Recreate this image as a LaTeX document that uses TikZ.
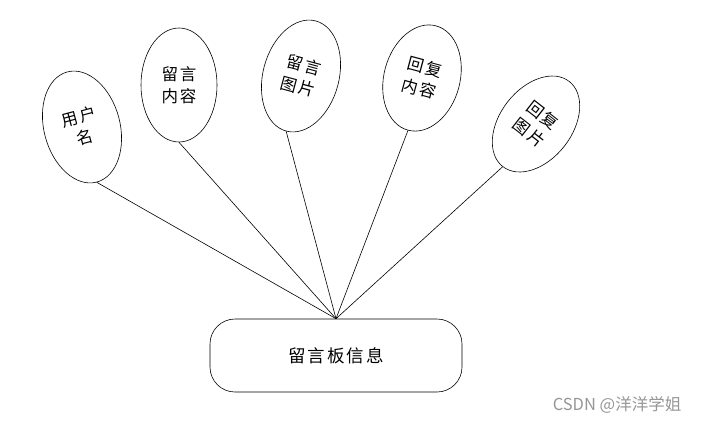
\documentclass[tikz,border=0pt]{standalone}
\usepackage{fontspec}
\setmainfont{Noto Sans CJK SC}
\newfontfamily\labelfont[LetterSpace=12]{Noto Sans CJK SC}
\usepackage{tikz}
\usetikzlibrary{shapes.geometric}
\definecolor{MarkGray}{RGB}{150,150,150}

\begin{document}
\begin{tikzpicture}[
    x=1pt,
    y=-1pt,
    line width=0.6pt,
    attr/.style={
        draw,
        ellipse,
        inner sep=0pt,
        align=center,
        minimum width=76pt,
        minimum height=114pt,
        font=\labelfont\fontsize{16.5}{22}\selectfont
    },
    entity/.style={
        draw,
        rounded corners=25pt,
        minimum width=252pt,
        minimum height=73pt,
        font=\labelfont\fontsize{17.5}{20}\selectfont
    }
]
\useasboundingbox (0,0) rectangle (701,424);

\node[attr, rotate=15] (user) at (82,127) {用户\\名};
\node[attr] (msgtext) at (179,85) {留言\\内容};
\node[attr, rotate=-15] (msgpic) at (301,76) {留言\\图片};
\node[attr, rotate=-15, minimum height=108pt] (replytext) at (422,78) {回复\\内容};
\node[attr, rotate=-38, minimum width=72pt, minimum height=108pt] (replypic) at (536,124) {回复\\图片};

\node[entity] (board) at (336,355.5) {留言板信息};

\draw (user.south) -- (board.north);
\draw (msgtext.south) -- (board.north);
\draw (msgpic.south) -- (board.north);
\draw (replytext.south) -- (board.north);
\draw (replypic.south) -- (board.north);

\node[text=MarkGray, font=\fontsize{16.5}{18}\selectfont] (mark) at (617,405) {CSDN @洋洋学姐};

\end{tikzpicture}
\end{document}
